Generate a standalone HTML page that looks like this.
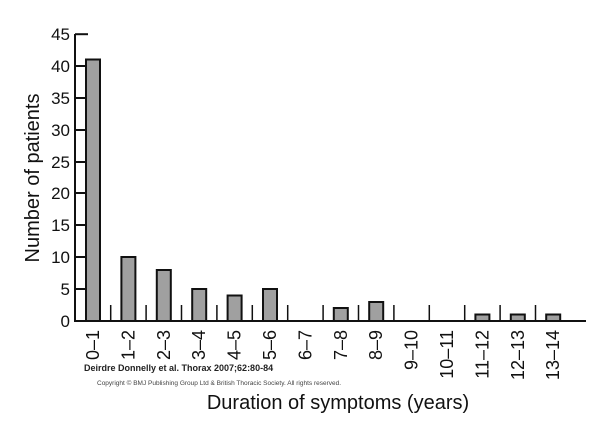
<!DOCTYPE html>
<html><head><style>body{margin:0;background:#fff}svg{display:block}</style></head><body>
<svg width="600" height="427" xmlns="http://www.w3.org/2000/svg" font-family="Liberation Sans, sans-serif">
<rect width="600" height="427" fill="#fff"/>
<g stroke="#111" stroke-width="2" fill="none">
<line x1="75" y1="34" x2="75" y2="322"/>
<line x1="74" y1="321" x2="586" y2="321"/>
<line x1="75" y1="34.2" x2="88" y2="34.2"/>
<line x1="75" y1="66" x2="88" y2="66"/>
<line x1="75" y1="98" x2="88" y2="98"/>
<line x1="75" y1="130" x2="88" y2="130"/>
<line x1="75" y1="162" x2="88" y2="162"/>
<line x1="75" y1="193" x2="88" y2="193"/>
<line x1="75" y1="225" x2="88" y2="225"/>
<line x1="75" y1="257" x2="88" y2="257"/>
<line x1="75" y1="289" x2="88" y2="289"/>
</g>
<g font-size="17" fill="#111" text-anchor="end">
<text x="70" y="40">45</text><text x="70" y="72">40</text><text x="70" y="104">35</text><text x="70" y="136">30</text><text x="70" y="168">25</text><text x="70" y="199">20</text><text x="70" y="231">15</text><text x="70" y="263">10</text><text x="70" y="295">5</text><text x="70" y="327">0</text>
</g>
<text transform="translate(39,178) rotate(-90)" font-size="20" text-anchor="middle" fill="#111">Number of patients</text>
<g fill="#a0a0a0" stroke="#111" stroke-width="2">
<rect x="86" y="59.5" width="14" height="261.5"/>
<rect x="121.4" y="257" width="14" height="64"/>
<rect x="156.8" y="270" width="14" height="51"/>
<rect x="192.2" y="289" width="14" height="32"/>
<rect x="227.6" y="295.5" width="14" height="25.5"/>
<rect x="263" y="289" width="14" height="32"/>
<rect x="333.8" y="308" width="14" height="13"/>
<rect x="369.2" y="302" width="14" height="19"/>
<rect x="475.4" y="314.5" width="14" height="6.5"/>
<rect x="510.8" y="314.5" width="14" height="6.5"/>
<rect x="546.2" y="314.5" width="14" height="6.5"/>
</g>
<g stroke="#111" stroke-width="1.5">
<line x1="110.7" y1="305" x2="110.7" y2="321"/><line x1="146.1" y1="305" x2="146.1" y2="321"/><line x1="181.5" y1="305" x2="181.5" y2="321"/><line x1="216.9" y1="305" x2="216.9" y2="321"/><line x1="252.3" y1="305" x2="252.3" y2="321"/><line x1="287.7" y1="305" x2="287.7" y2="321"/><line x1="323.1" y1="305" x2="323.1" y2="321"/><line x1="358.5" y1="305" x2="358.5" y2="321"/><line x1="393.9" y1="305" x2="393.9" y2="321"/><line x1="429.3" y1="305" x2="429.3" y2="321"/><line x1="464.7" y1="305" x2="464.7" y2="321"/><line x1="500.1" y1="305" x2="500.1" y2="321"/><line x1="535.5" y1="305" x2="535.5" y2="321"/>
</g>
<g font-size="18" fill="#111" text-anchor="end">
<text transform="translate(99,330) rotate(-90)">0–1</text>
<text transform="translate(134.4,330) rotate(-90)">1–2</text>
<text transform="translate(169.8,330) rotate(-90)">2–3</text>
<text transform="translate(205.2,330) rotate(-90)">3–4</text>
<text transform="translate(240.6,330) rotate(-90)">4–5</text>
<text transform="translate(276,330) rotate(-90)">5–6</text>
<text transform="translate(311.4,330) rotate(-90)">6–7</text>
<text transform="translate(346.8,330) rotate(-90)">7–8</text>
<text transform="translate(382.2,330) rotate(-90)">8–9</text>
<text transform="translate(417.6,330) rotate(-90)">9–10</text>
<text transform="translate(453,330) rotate(-90)">10–11</text>
<text transform="translate(488.4,330) rotate(-90)">11–12</text>
<text transform="translate(523.8,330) rotate(-90)">12–13</text>
<text transform="translate(559.2,330) rotate(-90)">13–14</text>
</g>
<text x="84" y="371" font-size="9" font-weight="bold" fill="#222">Deirdre Donnelly et al. Thorax 2007;62:80-84</text>
<text x="97" y="385" font-size="6.5" fill="#444">Copyright © BMJ Publishing Group Ltd &amp; British Thoracic Society. All rights reserved.</text>
<text x="338" y="409" font-size="20" text-anchor="middle" fill="#111">Duration of symptoms (years)</text>
</svg>
</body></html>
